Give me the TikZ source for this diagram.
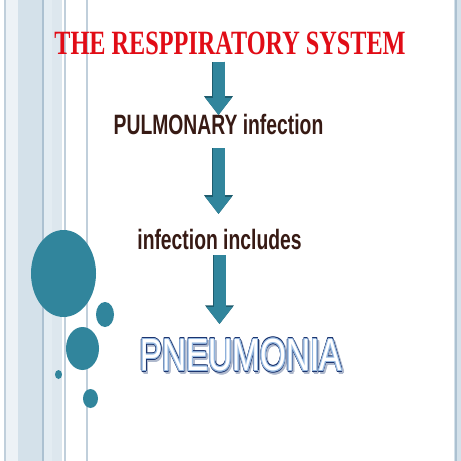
\documentclass[tikz,border=0pt]{standalone}
\usepackage{fontspec}
\setmainfont{Liberation Serif}
\setsansfont{Liberation Sans}
\usepackage{tikz}
\usepackage{xcolor}
\usetikzlibrary{arrows.meta,positioning}

\definecolor{titlered}{RGB}{225,12,22}
\definecolor{darkbrown}{RGB}{55,26,20}
\definecolor{teal}{RGB}{49,133,156}
\definecolor{tealedge}{RGB}{30,92,110}
\definecolor{navyline}{RGB}{28,52,110}
\definecolor{iceblue}{RGB}{150,185,225}
\definecolor{shade}{RGB}{175,185,205}
\definecolor{paleblue}{RGB}{237,242,246}
\definecolor{stripeblue}{RGB}{212,225,234}
\definecolor{stripeline}{RGB}{172,193,209}
\definecolor{stripelight}{RGB}{227,236,242}
\definecolor{thinline}{RGB}{192,207,219}

% copies of a text set round a ring, for the outlined word
\newcommand{\ringcopies}[3]{%
  \foreach \ang in {0,30,...,330}{%
    \pgfmathsetlengthmacro\dx{#1*cos(\ang)}%
    \pgfmathsetlengthmacro\dy{#1*sin(\ang)}%
    \rlap{\hspace*{\dx}\raisebox{\dy}{\color{#2}#3}}}}
\newcommand{\outlinetext}[1]{%
  \rlap{\hspace*{2.2pt}\raisebox{-2.2pt}{\ringcopies{1.6pt}{shade}{#1}}}%
  \ringcopies{1.8pt}{navyline}{#1}%
  \ringcopies{1pt}{iceblue}{#1}%
  \textcolor{white}{#1}}

\begin{document}
\begin{tikzpicture}[x=1pt,y=-1pt,
    title text/.style={inner sep=0pt,anchor=base,text=titlered,
      font=\rmfamily\bfseries\fontsize{34}{34}\selectfont},
    step text/.style={inner sep=0pt,anchor=base,text=darkbrown,
      font=\sffamily\bfseries\fontsize{28}{28}\selectfont},
    end text/.style={inner sep=0pt,anchor=base,
      font=\sffamily\fontsize{45}{45}\selectfont},
    block arrow/.style={draw=teal,line width=12pt,
      -{Triangle[width=25pt,length=17pt]},
      preaction={draw=tealedge,line width=13.4pt,
        -{Triangle[width=27.6pt,length=18.8pt]}}},
    bubble/.style={fill=teal}]

    % slide background
    \useasboundingbox (0,0) rectangle (461,461);
    \fill[white] (0,0) rectangle (461,461);
    \fill[thinline] (4,0) rectangle (6,461);
    \fill[paleblue] (6,0) rectangle (18,461);
    \fill[stripeblue] (18,0) rectangle (42,461);
    \fill[stripeline] (42,0) rectangle (44,461);
    \fill[stripelight] (44,0) rectangle (52,461);
    \fill[stripeblue!80!white] (52,0) rectangle (62,461);
    \fill[thinline] (64,0) rectangle (66,461);
    \fill[thinline] (86,0) rectangle (87.5,461);
    \fill[stripeblue] (454,0) rectangle (461,461);
    \fill[stripeline] (455,0) rectangle (456.5,461);

    % bubbles
    \fill[bubble] (63.5,273.5) ellipse [x radius=32.5pt,y radius=43.5pt];
    \fill[bubble] (105,314.5) ellipse [x radius=9pt,y radius=12.5pt];
    \fill[bubble] (82.5,348.5) ellipse [x radius=16.5pt,y radius=21.5pt];
    \fill[bubble] (58.5,374.5) ellipse [x radius=3.5pt,y radius=4.5pt];
    \fill[bubble] (90.5,398.5) ellipse [x radius=7.5pt,y radius=9.5pt];

    % texts
    \node[title text] (title) at (230,54) {\scalebox{0.713}[1]{THE RESPPIRATORY SYSTEM}};
    \node[step text] (pulm) at (218.5,134) {\scalebox{0.69}[1]{PULMONARY infection}};
    \node[step text] (incl) at (219.5,249) {\scalebox{0.69}[1]{infection includes}};
    \node[end text] (pneu) at (241,370.5) {\scalebox{0.74}[1]{\outlinetext{PNEUMONIA}}};

    % arrows
    \path (title.south -| pulm.north) edge[block arrow,shorten <=7pt,shorten >=-1.5pt] (pulm.north);
    \path (pulm.south) edge[block arrow,shorten <=14pt,shorten >=14.5pt] (incl.north -| pulm.south);
    \path (incl.south) edge[block arrow,shorten <=6pt,shorten >=13pt] (incl.south |- pneu.north);

\end{tikzpicture}
\end{document}
